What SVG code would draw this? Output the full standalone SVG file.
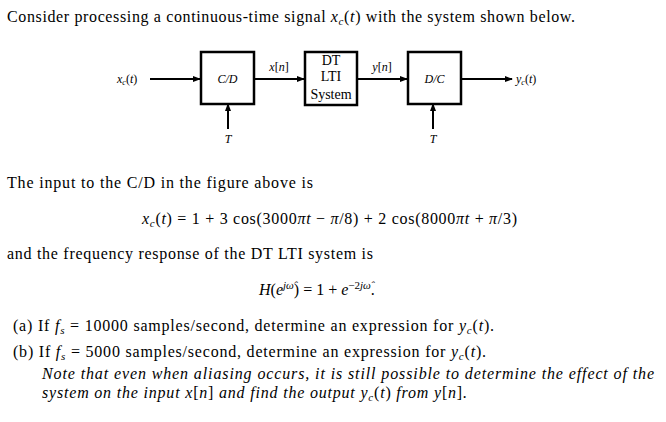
<svg xmlns="http://www.w3.org/2000/svg" width="666" height="422" viewBox="0 0 666 422">
<defs><marker id="a" markerWidth="8" markerHeight="6" refX="7" refY="3" orient="auto" markerUnits="userSpaceOnUse"><path d="M0,0 L8,3 L0,6 Z" fill="#000"/></marker></defs>
<style>
text{font-family:"Liberation Serif","DejaVu Serif",serif;fill:#000}
.t{font-size:16px}
.s{font-size:12px}
.i{font-style:italic}
.box{fill:#fff;stroke:#000;stroke-width:2.5}
.ln{stroke:#000;stroke-width:2;fill:none;marker-end:url(#a)}
</style>
<rect width="666" height="422" fill="#fff"/>
<text class="t" x="7" y="22" textLength="568" lengthAdjust="spacing">Consider processing a continuous-time signal <tspan class="i">x</tspan><tspan font-size="11" dy="3" class="i">c</tspan><tspan dy="-3">(</tspan><tspan class="i">t</tspan>) with the system shown below.</text>
<g id="connectors">
<line class="ln" x1="150" y1="79" x2="200" y2="79"/>
<line class="ln" x1="254" y1="79" x2="304" y2="79"/>
<line class="ln" x1="357" y1="79" x2="407" y2="79"/>
<line class="ln" x1="461" y1="79" x2="512" y2="79"/>
<line class="ln" x1="228" y1="129" x2="228" y2="104"/>
<line class="ln" x1="433" y1="129" x2="433" y2="104"/>
</g>
<g id="xc"><text class="s" x="117" y="83"><tspan class="i">x</tspan><tspan font-size="8" dy="2" class="i">c</tspan><tspan dy="-2">(</tspan><tspan class="i">t</tspan>)</text></g>
<g id="cd"><rect class="box" x="201" y="52" width="53" height="52"/><text class="s i" x="227.5" y="83" text-anchor="middle">C/D</text></g>
<g id="xn"><text class="s" x="279" y="71" text-anchor="middle"><tspan class="i">x</tspan>[<tspan class="i">n</tspan>]</text></g>
<g id="lti"><rect class="box" x="305" y="52" width="52" height="53"/><text x="331" y="65" font-size="14" text-anchor="middle">DT</text><text x="331" y="81" font-size="14" text-anchor="middle">LTI</text><text x="331" y="99" font-size="14" text-anchor="middle">System</text></g>
<g id="yn"><text class="s" x="382" y="71" text-anchor="middle"><tspan class="i">y</tspan>[<tspan class="i">n</tspan>]</text></g>
<g id="dc"><rect class="box" x="408" y="52" width="53" height="52"/><text class="s i" x="434.5" y="83" text-anchor="middle">D/C</text></g>
<g id="yc"><text class="s" x="516" y="83"><tspan class="i">y</tspan><tspan font-size="8" dy="2" class="i">c</tspan><tspan dy="-2">(</tspan><tspan class="i">t</tspan>)</text></g>
<g id="T1"><text class="s i" x="228" y="143" text-anchor="middle">T</text></g>
<g id="T2"><text class="s i" x="433" y="143" text-anchor="middle">T</text></g>
<text class="t" x="7" y="188" textLength="306" lengthAdjust="spacing">The input to the C/D in the figure above is</text>
<text class="t" x="142" y="224" textLength="375" lengthAdjust="spacing"><tspan class="i">x</tspan><tspan font-size="11" dy="3" class="i">c</tspan><tspan dy="-3">(</tspan><tspan class="i">t</tspan>) = 1 + 3 cos(3000<tspan class="i">πt</tspan> − <tspan class="i">π</tspan>/8) + 2 cos(8000<tspan class="i">πt</tspan> + <tspan class="i">π</tspan>/3)</text>
<text class="t" x="7" y="259" textLength="366" lengthAdjust="spacing">and the frequency response of the DT LTI system is</text>
<text class="t" x="259" y="295"><tspan class="i">H</tspan>(<tspan class="i">e</tspan><tspan font-size="11" dy="-6" class="i">jω̂</tspan><tspan dy="6">) = 1 + </tspan><tspan class="i">e</tspan><tspan font-size="11" dy="-6">−2<tspan class="i">jω̂</tspan></tspan><tspan dy="6">.</tspan></text>
<text class="t" x="13" y="331" textLength="481" lengthAdjust="spacing">(a)  If <tspan class="i">f</tspan><tspan font-size="11" dy="3" class="i">s</tspan><tspan dy="-3"> = 10000 samples/second, determine an expression for </tspan><tspan class="i">y</tspan><tspan font-size="11" dy="3" class="i">c</tspan><tspan dy="-3">(</tspan><tspan class="i">t</tspan>).</text>
<text class="t" x="13" y="357" textLength="473" lengthAdjust="spacing">(b)  If <tspan class="i">f</tspan><tspan font-size="11" dy="3" class="i">s</tspan><tspan dy="-3"> = 5000 samples/second, determine an expression for </tspan><tspan class="i">y</tspan><tspan font-size="11" dy="3" class="i">c</tspan><tspan dy="-3">(</tspan><tspan class="i">t</tspan>).</text>
<text class="t i" x="42" y="379" textLength="612" lengthAdjust="spacing">Note that even when aliasing occurs, it is still possible to determine the effect of the</text>
<text class="t i" x="42" y="398" textLength="425" lengthAdjust="spacing">system on the input <tspan>x</tspan><tspan font-style="normal">[</tspan>n<tspan font-style="normal">]</tspan> and find the output y<tspan font-size="11" dy="3">c</tspan><tspan dy="-3" font-style="normal">(</tspan>t<tspan font-style="normal">)</tspan> from y<tspan font-style="normal">[</tspan>n<tspan font-style="normal">]</tspan>.</text>
</svg>
